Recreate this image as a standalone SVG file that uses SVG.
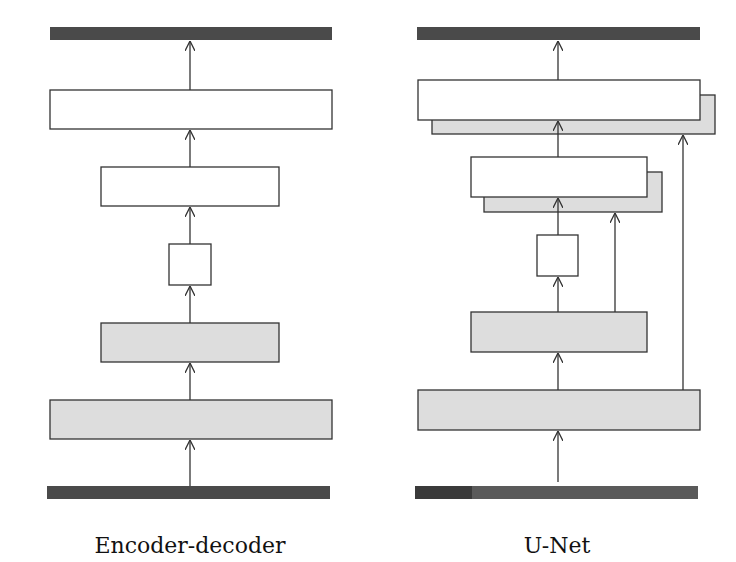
<svg xmlns="http://www.w3.org/2000/svg" width="736" height="562" viewBox="0 0 736 562">
<style>
.bar{fill:#4a4a4a}
.w{fill:#fff;stroke:#333;stroke-width:1.3}
.g{fill:#ddd;stroke:#333;stroke-width:1.3}
.c line{stroke:#333;stroke-width:1.3;marker-end:url(#a)}
text{font-family:"DejaVu Serif","Liberation Serif",serif;font-size:22px;fill:#111;text-anchor:middle}
</style>
<defs><marker id="a" viewBox="0 0 10 10" refX="10" refY="5" markerWidth="10" markerHeight="10" markerUnits="userSpaceOnUse" orient="auto"><path d="M0,0 L10,5 L0,10" fill="none" stroke="#333" stroke-width="1.3"/></marker></defs>
<rect width="736" height="562" fill="#fff"/>
<g id="ed-out"><rect class="bar" x="50" y="27" width="282" height="13"/></g>
<g id="ed-d2"><rect class="w" x="50" y="90" width="282" height="39"/></g>
<g id="ed-d1"><rect class="w" x="101" y="167" width="178" height="39"/></g>
<g id="ed-b"><rect class="w" x="169" y="244" width="42" height="41"/></g>
<g id="ed-e2"><rect class="g" x="101" y="323" width="178" height="39"/></g>
<g id="ed-e1"><rect class="g" x="50" y="400" width="282" height="39"/></g>
<g id="ed-in"><rect class="bar" x="47" y="486" width="283" height="13"/></g>
<g id="un-out"><rect class="bar" x="417" y="27" width="283" height="13"/></g>
<g id="un-d2"><rect class="g" x="432" y="95" width="283" height="39"/><rect class="w" x="418" y="80" width="282" height="40"/></g>
<g id="un-d1"><rect class="g" x="484" y="172" width="178" height="40"/><rect class="w" x="471" y="157" width="176" height="40"/></g>
<g id="un-b"><rect class="w" x="537" y="235" width="41" height="41"/></g>
<g id="un-e2"><rect class="g" x="471" y="312" width="176" height="40"/></g>
<g id="un-e1"><rect class="g" x="418" y="390" width="282" height="40"/></g>
<g id="un-in"><rect x="415" y="486" width="283" height="13" fill="#5a5a5a"/><rect x="415" y="486" width="57" height="13" fill="#3a3a3a"/></g>
<g class="c">
<line x1="190" y1="486" x2="190" y2="440"/>
<line x1="190" y1="400" x2="190" y2="363"/>
<line x1="190" y1="323" x2="190" y2="286"/>
<line x1="190" y1="244" x2="190" y2="207"/>
<line x1="190" y1="167" x2="190" y2="130"/>
<line x1="190" y1="90" x2="190" y2="41"/>
<line x1="558" y1="482" x2="558" y2="431"/>
<line x1="558" y1="390" x2="558" y2="353"/>
<line x1="558" y1="312" x2="558" y2="277"/>
<line x1="558" y1="235" x2="558" y2="198"/>
<line x1="558" y1="157" x2="558" y2="121"/>
<line x1="558" y1="80" x2="558" y2="41"/>
<line x1="615" y1="312" x2="615" y2="213"/>
<line x1="683" y1="390" x2="683" y2="135"/>
</g>
<text x="190" y="553">Encoder-decoder</text>
<text x="557" y="553">U-Net</text>
</svg>
